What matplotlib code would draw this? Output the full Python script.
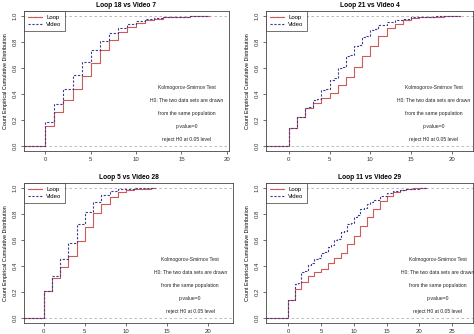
import matplotlib.pyplot as plt

plt.rcParams['font.family'] = ['Liberation Sans', 'DejaVu Sans']

# ---- data ----
titles = ['Loop 18 vs Video 7', 'Loop 21 vs Video 4', 'Loop 5 vs Video 28', 'Loop 11 vs Video 29']

loop1_x = list(range(0, 18))
loop1_y = [0.15, 0.26, 0.35, 0.44, 0.54, 0.64, 0.74, 0.82, 0.88, 0.92, 0.95, 0.97, 0.98, 0.99, 0.995, 0.997, 0.999, 1.0]
video1_x = list(range(0, 18))
video1_y = [0.18, 0.32, 0.44, 0.55, 0.65, 0.74, 0.81, 0.87, 0.91, 0.94, 0.96, 0.975, 0.985, 0.99, 0.995, 0.997, 0.999, 1.0]

loop2_x = list(range(0, 21))
loop2_y = [0.14, 0.22, 0.29, 0.33, 0.37, 0.41, 0.47, 0.53, 0.61, 0.69, 0.77, 0.85, 0.91, 0.94, 0.97, 0.985, 0.99, 0.995, 0.997, 0.999, 1.0]
video2_x = [0, 1, 2, 2.5, 3, 3.5, 4, 4.5, 5, 5.5, 6, 6.5, 7, 7.5, 8, 8.5, 9, 9.5, 10, 10.5, 11, 12, 13, 14, 15, 16, 18, 20]
video2_y = [0.14, 0.22, 0.29, 0.30, 0.35, 0.36, 0.43, 0.44, 0.51, 0.52, 0.60, 0.61, 0.69, 0.70, 0.77, 0.78, 0.84, 0.85, 0.89, 0.90, 0.93, 0.955, 0.97, 0.98, 0.99, 0.995, 0.998, 1.0]

loop3_x = list(range(0, 14))
loop3_y = [0.21, 0.31, 0.39, 0.48, 0.59, 0.70, 0.81, 0.88, 0.93, 0.97, 0.985, 0.99, 0.995, 1.0]
video3_x = list(range(0, 14))
video3_y = [0.21, 0.32, 0.45, 0.58, 0.72, 0.82, 0.89, 0.95, 0.975, 0.99, 0.995, 0.998, 0.999, 1.0]

loop4_x = list(range(0, 21))
loop4_y = [0.14, 0.22, 0.28, 0.32, 0.35, 0.38, 0.42, 0.46, 0.50, 0.57, 0.63, 0.71, 0.78, 0.84, 0.90, 0.94, 0.97, 0.985, 0.995, 0.998, 1.0]
video4_x = [0, 1, 1.5, 2, 2.5, 3, 3.5, 4, 4.5, 5, 5.5, 6, 6.5, 7, 7.5, 8, 8.5, 9, 9.5, 10, 10.5, 11, 11.5, 12, 12.5, 13, 14, 15, 16, 17, 18, 20]
video4_y = [0.14, 0.26, 0.27, 0.35, 0.36, 0.41, 0.42, 0.45, 0.46, 0.50, 0.51, 0.55, 0.56, 0.60, 0.61, 0.66, 0.67, 0.72, 0.73, 0.78, 0.79, 0.84, 0.85, 0.88, 0.89, 0.91, 0.94, 0.96, 0.975, 0.985, 0.995, 1.0]

loops = [(loop1_x, loop1_y), (loop2_x, loop2_y), (loop3_x, loop3_y), (loop4_x, loop4_y)]
videos = [(video1_x, video1_y), (video2_x, video2_y), (video3_x, video3_y), (video4_x, video4_y)]
line_ends = [18, 21, 13.5, 21]
xlims = [(-2.35, 20.25), (-2.8, 22.6), (-2.4, 23.0), (-3.4, 28.2)]
xticks = [[0, 5, 10, 15, 20], [0, 5, 10, 15, 20], [0, 5, 10, 15, 20], [0, 5, 10, 15, 20, 25]]
text_x = [15.6, 17.8, 17.8, 22.8]

ks_lines = ['Kolmogorov-Smirnov Test', 'H0: The two data sets are drawn',
            'from the same population', 'p-value=0', 'reject H0 at 0.05 level']
ks_y = [0.45, 0.35, 0.25, 0.15, 0.05]

# axes boxes in pixels: left, right, top, bottom
W, H = 474, 334
boxes = [(24, 229, 11, 151), (266, 473, 11, 151), (24, 233, 183, 323), (266, 473, 183, 323)]

loop_col = '#d05a5a'
video_col = '#3b3b8f'

fig = plt.figure(figsize=(W / 100, H / 100), dpi=100)

for i in range(4):
    l, r, t, b = boxes[i]
    ax = fig.add_axes([l / W, 1 - b / H, (r - l) / W, (b - t) / H])
    x0, x1 = xlims[i]

    # grey dashed reference lines at 0 and 1
    ax.axhline(0, color='#b0b0b0', lw=0.6, ls=(0, (3, 3)))
    ax.axhline(1, color='#b0b0b0', lw=0.6, ls=(0, (3, 3)))

    lx, ly = loops[i]
    vx, vy = videos[i]
    ax.step([x0] + lx + [line_ends[i]], [0] + ly + [ly[-1]], where='post',
            color=loop_col, lw=0.8, label='Loop')
    ax.step([x0] + vx + [line_ends[i]], [0] + vy + [vy[-1]], where='post',
            color=video_col, lw=0.8, ls=(0, (2, 1.5)), label='Video')

    ax.set_xlim(x0, x1)
    ax.set_ylim(-0.04, 1.04)
    ax.set_xticks(xticks[i])
    ax.set_yticks([0, 0.2, 0.4, 0.6, 0.8, 1.0])
    ax.set_yticklabels(['0.0', '0.2', '0.4', '0.6', '0.8', '1.0'], rotation=90, va='center')
    ax.tick_params(labelsize=4.3, length=2.5, width=0.5, pad=2, colors='#333333')
    for s in ax.spines.values():
        s.set_linewidth(0.6)
        s.set_color('#444444')

    ax.set_title(titles[i], fontsize=4.8, fontweight='bold', pad=3)
    ax.set_ylabel('Count Empirical Cumulative Distribution', fontsize=3.9, labelpad=3.5)

    for s, yy in zip(ks_lines, ks_y):
        ax.text(text_x[i], yy, s, fontsize=3.6, ha='center', va='center', color='#222222')

    leg = ax.legend(loc='upper left', fontsize=4.3, borderaxespad=0, fancybox=False,
                    handlelength=2.4, handletextpad=0.7, borderpad=0.6, labelspacing=0.35)
    leg.get_frame().set_edgecolor('#333333')
    leg.get_frame().set_linewidth(0.6)

fig.savefig('out.png', dpi=100)
